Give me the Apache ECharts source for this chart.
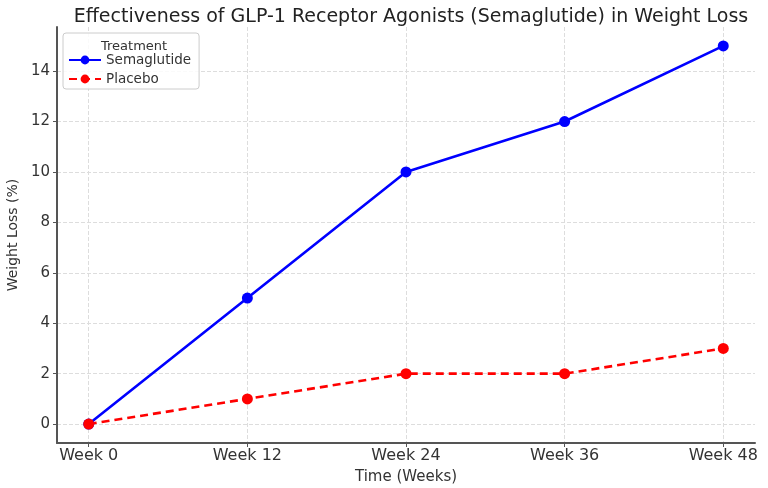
<!DOCTYPE html>
<html>
<head>
<meta charset="utf-8">
<script src="https://cdn.jsdelivr.net/npm/echarts@6/dist/echarts.min.js"></script>
<style>
  html, body { margin: 0; padding: 0; background: #fff; }
  #chart { width: 768px; height: 488px; }
</style>
</head>
<body>
<div id="chart"></div>
<script>
// data
const weeks = [0, 12, 24, 36, 48];
const semaglutide = [0, 5, 10, 12, 15];
const placebo = [0, 1, 2, 2, 3];
const yTicks = [0, 2, 4, 6, 8, 10, 12, 14];

const chart = echarts.init(document.getElementById('chart'));
const font = 'DejaVu Sans';

const options = {
    backgroundColor: '#fff',
    animation: false,
    textStyle: { fontFamily: font },
    title: [{
        text: 'Effectiveness of GLP-1 Receptor Agonists (Semaglutide) in Weight Loss',
        left: 406,
        textAlign: 'center',
        top: 3,
        textStyle: { fontFamily: font, fontSize: 19, fontWeight: 'normal', color: '#222' }
    }, {
        text: 'Treatment',
        left: 96,
        top: 35,
        textStyle: { fontFamily: font, fontSize: 13, fontWeight: 'normal', color: '#333' }
    }],
    legend: {
        orient: 'vertical',
        left: 63,
        top: 33,
        padding: [20, 8, 3, 5],
        itemGap: 5,
        itemWidth: 32,
        itemHeight: 11,
        borderColor: '#ccc',
        borderWidth: 1,
        borderRadius: 3,
        backgroundColor: 'rgba(255,255,255,0.85)',
        textStyle: { fontFamily: font, fontSize: 13.5, color: '#333' },
        data: ['Semaglutide', 'Placebo']
    },
    grid: { left: 57, right: 13, top: 27, bottom: 45, containLabel: false, outerBoundsMode: 'none' },
    xAxis: {
        type: 'value',
        min: -2.4,
        max: 50.4,
        name: 'Time (Weeks)',
        nameLocation: 'middle',
        nameGap: 27,
        nameTextStyle: { fontFamily: font, fontSize: 15, color: '#333' },
        axisLine: { onZero: false, lineStyle: { color: '#555', width: 2 } },
        axisTick: { show: true, customValues: weeks, length: 4, lineStyle: { color: '#555' } },
        axisLabel: {
            customValues: weeks,
            formatter: (v) => 'Week ' + v,
            fontFamily: font, fontSize: 16, color: '#333', margin: 5
        },
        splitLine: { show: true, lineStyle: { color: '#ddd', type: 'dashed', width: 1 } }
    },
    yAxis: {
        type: 'value',
        min: -0.75,
        max: 15.75,
        name: 'Weight Loss (%)',
        nameLocation: 'middle',
        nameGap: 34,
        nameRotate: 90,
        nameTextStyle: { fontFamily: font, fontSize: 14, color: '#333' },
        axisLine: { show: true, onZero: false, lineStyle: { color: '#555', width: 2 } },
        axisTick: { show: true, customValues: yTicks, length: 4, lineStyle: { color: '#555' } },
        axisLabel: { customValues: yTicks, fontFamily: font, fontSize: 15, color: '#333', margin: 7 },
        splitLine: { show: true, lineStyle: { color: '#ddd', type: 'dashed', width: 1 } }
    },
    series: [{
        name: 'Semaglutide',
        type: 'line',
        data: weeks.map((w, i) => [w, semaglutide[i]]),
        symbol: 'circle',
        symbolSize: 11,
        itemStyle: { color: '#0000ff' },
        lineStyle: { color: '#0000ff', width: 2.6 }
    }, {
        name: 'Placebo',
        type: 'line',
        data: weeks.map((w, i) => [w, placebo[i]]),
        symbol: 'circle',
        symbolSize: 11,
        itemStyle: { color: '#ff0000' },
        lineStyle: { color: '#ff0000', width: 2.6, type: [8, 5] }
    }]
};

chart.setOption(options);
</script>
</body>
</html>
